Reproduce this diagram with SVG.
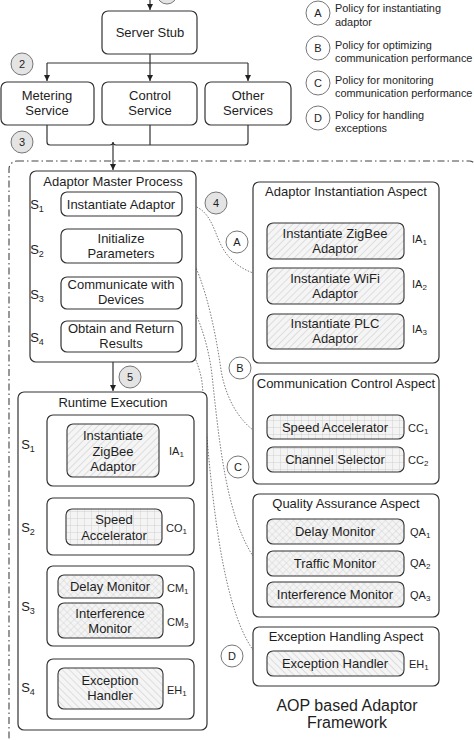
<svg xmlns="http://www.w3.org/2000/svg" width="474" height="740" viewBox="0 0 474 740">
<defs>
<style>
text{font-family:"Liberation Sans",Arial,sans-serif;fill:#1e1e1e}
.t{font-size:13px;text-anchor:middle}
.l{font-size:11px}
.lg{font-size:10.9px}
.ft{font-size:16px;text-anchor:middle}
.box{fill:#fff;stroke:#333;stroke-width:1.2}
.num{fill:#e4e4e4;stroke:#777;stroke-width:1}
.let{fill:#fff;stroke:#777;stroke-width:1}
.ct{font-size:11px;text-anchor:middle}
.ln{fill:none;stroke:#333;stroke-width:1.2}
.dot{fill:none;stroke:#7a7a7a;stroke-width:1;stroke-dasharray:1.5 1.5}
.frame{fill:none;stroke:#444;stroke-width:1.1;stroke-dasharray:7 3 1.5 3}
.hA{fill:url(#hatchA);stroke:#333;stroke-width:1.1}
.hB{fill:url(#hatchB);stroke:#333;stroke-width:1.1}
.gr{fill:url(#grid);stroke:#333;stroke-width:1.1}
.cx{fill:url(#cross);stroke:#333;stroke-width:1.1}
</style>
<pattern id="hatchA" width="5" height="5" patternUnits="userSpaceOnUse" patternTransform="rotate(45)"><rect width="5" height="5" fill="#f5f5f5"/><line x1="0" y1="0" x2="0" y2="5" stroke="#c6c6c6" stroke-width="1"/></pattern>
<pattern id="hatchB" width="5" height="5" patternUnits="userSpaceOnUse" patternTransform="rotate(-45)"><rect width="5" height="5" fill="#f5f5f5"/><line x1="0" y1="0" x2="0" y2="5" stroke="#c6c6c6" stroke-width="1"/></pattern>
<pattern id="grid" width="7" height="7" patternUnits="userSpaceOnUse"><rect width="7" height="7" fill="#f4f4f4"/><path d="M0,0H7M0,0V7" stroke="#c8c8c8" stroke-width="0.8" fill="none"/></pattern>
<pattern id="cross" width="5" height="5" patternUnits="userSpaceOnUse" patternTransform="rotate(45)"><rect width="5" height="5" fill="#f4f4f4"/><path d="M0,0H5M0,0V5" stroke="#cdcdcd" stroke-width="0.8" fill="none"/></pattern>
<marker id="arr" markerWidth="8" markerHeight="8" refX="6" refY="3" orient="auto" markerUnits="userSpaceOnUse"><path d="M0,0L6,3L0,6z" fill="#222"/></marker>
</defs>

<rect x="9" y="161" width="468" height="584" rx="8" class="frame"/>

<g id="connectors">
<path class="ln" d="M150,0V10" marker-end="url(#arr)"/>
<path class="ln" d="M150,54V63M47,63H248"/>
<path class="ln" d="M47,63V81" marker-end="url(#arr)"/>
<path class="ln" d="M150,63V81" marker-end="url(#arr)"/>
<path class="ln" d="M248,63V81" marker-end="url(#arr)"/>
<path class="ln" d="M47,125V142Q47,145 50,145H110Q113,145 113,142Q113,145 116,145H245Q248,145 248,142V125M150,125V145"/>
<path class="ln" d="M113,143V170" marker-end="url(#arr)"/>
<path class="ln" d="M121,216V228" marker-end="url(#arr)"/>
<path class="ln" d="M121,263V276" marker-end="url(#arr)"/>
<path class="ln" d="M121,309V320" marker-end="url(#arr)"/>
<path class="ln" d="M113,362V391" marker-end="url(#arr)"/>
<path class="ln" d="M121,486V497" marker-end="url(#arr)"/>
<path class="ln" d="M121,555V565" marker-end="url(#arr)"/>
<path class="ln" d="M121,646V658" marker-end="url(#arr)"/>
<path class="dot" d="M182,204C208,204 212,225 220,243C228,260 240,268 253,273"/>
<path class="dot" d="M182,246C200,262 214,320 221,370C226,400 240,420 253,430"/>
<path class="dot" d="M182,292C195,305 208,340 212,375C219,440 226,515 253,556"/>
<path class="dot" d="M182,337C190,347 199,362 202,382C210,470 218,600 253,650"/>
<circle cx="182" cy="204" r="2.5" fill="#111"/>
<circle cx="182" cy="246" r="2.5" fill="#111"/>
<circle cx="182" cy="292" r="2.5" fill="#111"/>
<circle cx="182" cy="337" r="2.5" fill="#111"/>
</g>

<g id="badges">
<circle cx="167" cy="-6" r="10" class="num"/>
<circle cx="22" cy="64" r="11" class="num"/><text x="22" y="68" class="ct">2</text>
<circle cx="22" cy="142" r="11" class="num"/><text x="22" y="146" class="ct">3</text>
<circle cx="216" cy="203" r="11" class="num"/><text x="216" y="207" class="ct">4</text>
<circle cx="130" cy="377" r="11" class="num"/><text x="130" y="381" class="ct">5</text>
<circle cx="237" cy="242" r="11" class="let"/><text x="237" y="246" class="ct">A</text>
<circle cx="240" cy="368" r="11" class="let"/><text x="240" y="372" class="ct">B</text>
<circle cx="238" cy="467" r="11" class="let"/><text x="238" y="471" class="ct">C</text>
<circle cx="232" cy="656" r="11" class="let"/><text x="232" y="660" class="ct">D</text>
</g>

<g id="legend">
<circle cx="318" cy="13" r="12" class="let"/><text x="318" y="17" class="ct">A</text>
<text x="335" y="12" class="lg">Policy for instantiating</text><text x="335" y="26" class="lg">adaptor</text>
<circle cx="318" cy="48" r="12" class="let"/><text x="318" y="52" class="ct">B</text>
<text x="335" y="49" class="lg">Policy for optimizing</text><text x="335" y="62" class="lg">communication performance</text>
<circle cx="318" cy="83" r="12" class="let"/><text x="318" y="87" class="ct">C</text>
<text x="335" y="84" class="lg">Policy for monitoring</text><text x="335" y="97" class="lg">communication performance</text>
<circle cx="318" cy="118" r="12" class="let"/><text x="318" y="122" class="ct">D</text>
<text x="335" y="119" class="lg">Policy for handling</text><text x="335" y="132" class="lg">exceptions</text>
</g>

<g id="server-stub"><rect x="102" y="11" width="95" height="43" rx="6" class="box"/><text x="150" y="37" class="t">Server Stub</text></g>
<g id="metering"><rect x="1" y="82" width="93" height="43" rx="6" class="box"/><text x="47" y="100" class="t">Metering</text><text x="47" y="115" class="t">Service</text></g>
<g id="control"><rect x="102" y="82" width="95" height="43" rx="6" class="box"/><text x="150" y="100" class="t">Control</text><text x="150" y="115" class="t">Service</text></g>
<g id="other"><rect x="205" y="82" width="86" height="43" rx="6" class="box"/><text x="248" y="100" class="t">Other</text><text x="248" y="115" class="t">Services</text></g>

<g id="master">
<rect x="30" y="171" width="166" height="191" rx="6" class="box"/>
<text x="113" y="186" class="t">Adaptor Master Process</text>
<rect x="61" y="192" width="121" height="24" rx="6" class="box"/><text x="121" y="209" class="t">Instantiate Adaptor</text>
<rect x="61" y="229" width="121" height="34" rx="6" class="box"/><text x="121" y="243" class="t">Initialize</text><text x="121" y="258" class="t">Parameters</text>
<rect x="61" y="277" width="121" height="32" rx="6" class="box"/><text x="121" y="289" class="t">Communicate with</text><text x="121" y="304" class="t">Devices</text>
<rect x="61" y="321" width="121" height="31" rx="6" class="box"/><text x="121" y="333" class="t">Obtain and Return</text><text x="121" y="348" class="t">Results</text>
<text x="37" y="209" class="t">S<tspan font-size="9" dy="3">1</tspan></text>
<text x="37" y="254" class="t">S<tspan font-size="9" dy="3">2</tspan></text>
<text x="37" y="299" class="t">S<tspan font-size="9" dy="3">3</tspan></text>
<text x="37" y="342" class="t">S<tspan font-size="9" dy="3">4</tspan></text>
</g>

<g id="runtime">
<rect x="18" y="392" width="189" height="338" rx="6" class="box"/>
<text x="113" y="407" class="t">Runtime Execution</text>
<rect x="47" y="415" width="147" height="71" rx="6" class="box"/>
<rect x="67" y="424" width="92" height="53" rx="6" class="hA"/>
<text x="113" y="440" class="t">Instantiate</text><text x="113" y="456" class="t">ZigBee</text><text x="113" y="471" class="t">Adaptor</text>
<text x="169" y="455" class="l">IA<tspan font-size="8" dy="2">1</tspan></text>
<text x="28" y="449" class="t">S<tspan font-size="9" dy="3">1</tspan></text>
<rect x="47" y="498" width="147" height="57" rx="6" class="box"/>
<rect x="66" y="509" width="96" height="36" rx="6" class="gr"/>
<text x="114" y="524" class="t">Speed</text><text x="114" y="540" class="t">Accelerator</text>
<text x="166" y="532" class="l">CO<tspan font-size="8" dy="2">1</tspan></text>
<text x="28" y="532" class="t">S<tspan font-size="9" dy="3">2</tspan></text>
<rect x="47" y="566" width="147" height="80" rx="6" class="box"/>
<rect x="58" y="575" width="105" height="23" rx="6" class="cx"/><text x="110" y="591" class="t">Delay Monitor</text>
<rect x="58" y="603" width="105" height="35" rx="6" class="cx"/><text x="110" y="618" class="t">Interference</text><text x="110" y="633" class="t">Monitor</text>
<text x="167" y="592" class="l">CM<tspan font-size="8" dy="2">1</tspan></text>
<text x="167" y="626" class="l">CM<tspan font-size="8" dy="2">3</tspan></text>
<text x="28" y="611" class="t">S<tspan font-size="9" dy="3">3</tspan></text>
<rect x="47" y="659" width="147" height="60" rx="6" class="box"/>
<rect x="58" y="668" width="105" height="41" rx="6" class="hB"/>
<text x="110" y="685" class="t">Exception</text><text x="110" y="700" class="t">Handler</text>
<text x="167" y="694" class="l">EH<tspan font-size="8" dy="2">1</tspan></text>
<text x="28" y="692" class="t">S<tspan font-size="9" dy="3">4</tspan></text>
</g>

<g id="instantiation-aspect">
<rect x="253" y="182" width="186" height="181" rx="6" class="box"/>
<text x="346" y="196" class="t">Adaptor Instantiation Aspect</text>
<rect x="267" y="223" width="137" height="36" rx="6" class="hA"/><text x="335" y="238" class="t">Instantiate ZigBee</text><text x="335" y="253" class="t">Adaptor</text>
<rect x="267" y="268" width="137" height="36" rx="6" class="hA"/><text x="335" y="283" class="t">Instantiate WiFi</text><text x="335" y="298" class="t">Adaptor</text>
<rect x="267" y="314" width="137" height="35" rx="6" class="hA"/><text x="335" y="328" class="t">Instantiate PLC</text><text x="335" y="343" class="t">Adaptor</text>
<text x="412" y="243" class="l">IA<tspan font-size="8" dy="2">1</tspan></text>
<text x="412" y="288" class="l">IA<tspan font-size="8" dy="2">2</tspan></text>
<text x="412" y="333" class="l">IA<tspan font-size="8" dy="2">3</tspan></text>
</g>

<g id="communication-aspect">
<rect x="253" y="374" width="186" height="110" rx="6" class="box"/>
<text x="346" y="388" class="t">Communication Control Aspect</text>
<rect x="267" y="415" width="137" height="24" rx="6" class="gr"/><text x="335" y="432" class="t">Speed Accelerator</text>
<rect x="267" y="447" width="137" height="25" rx="6" class="gr"/><text x="335" y="464" class="t">Channel Selector</text>
<text x="408" y="432" class="l">CC<tspan font-size="8" dy="2">1</tspan></text>
<text x="408" y="464" class="l">CC<tspan font-size="8" dy="2">2</tspan></text>
</g>

<g id="quality-aspect">
<rect x="253" y="494" width="186" height="123" rx="6" class="box"/>
<text x="346" y="508" class="t">Quality Assurance Aspect</text>
<rect x="267" y="519" width="137" height="25" rx="6" class="cx"/><text x="335" y="536" class="t">Delay Monitor</text>
<rect x="267" y="551" width="137" height="25" rx="6" class="cx"/><text x="335" y="568" class="t">Traffic Monitor</text>
<rect x="267" y="582" width="137" height="25" rx="6" class="cx"/><text x="335" y="599" class="t">Interference Monitor</text>
<text x="410" y="536" class="l">QA<tspan font-size="8" dy="2">1</tspan></text>
<text x="410" y="567" class="l">QA<tspan font-size="8" dy="2">2</tspan></text>
<text x="410" y="599" class="l">QA<tspan font-size="8" dy="2">3</tspan></text>
</g>

<g id="exception-aspect">
<rect x="253" y="627" width="186" height="59" rx="6" class="box"/>
<text x="346" y="641" class="t">Exception Handling Aspect</text>
<rect x="267" y="651" width="137" height="25" rx="6" class="hB"/><text x="335" y="668" class="t">Exception Handler</text>
<text x="409" y="668" class="l">EH<tspan font-size="8" dy="2">1</tspan></text>
</g>

<g id="framework-label">
<text x="347" y="711" class="ft">AOP based Adaptor</text>
<text x="347" y="728" class="ft">Framework</text>
</g>
</svg>
